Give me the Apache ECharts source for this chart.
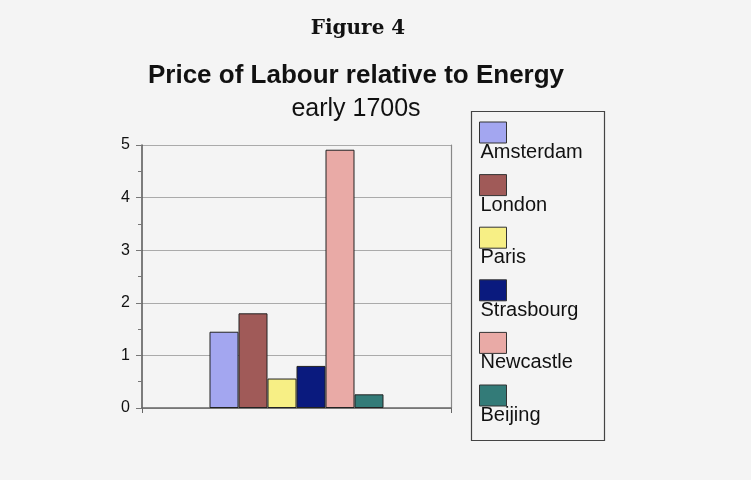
<!DOCTYPE html>
<html>
<head>
<meta charset="utf-8">
<script src="https://cdn.jsdelivr.net/npm/echarts@6/dist/echarts.min.js"></script>
<style>
    html, body { margin: 0; padding: 0; background: #f4f4f4; }
    #chart { width: 751px; height: 480px; }
</style>
</head>
<body>
<div id="chart"></div>
<script>
// data
var cities = ['Amsterdam', 'London', 'Paris', 'Strasbourg', 'Newcastle', 'Beijing'];
var values = [1.45, 1.80, 0.56, 0.80, 4.91, 0.26];
var colors = ['#a3a6f0', '#a05a58', '#f7ef85', '#0a1a7e', '#e9aaa6', '#337b78'];
var yTicks = [0, 1, 2, 3, 4, 5];

var chart = echarts.init(document.getElementById('chart'));

var series = [];
for (var i = 0; i < cities.length; i++) {
    series.push({
        name: cities[i],
        type: 'bar',
        data: [values[i]],
        barWidth: 29,
        barGap: '0%',
        itemStyle: {
            color: colors[i],
            borderColor: '#222',
            borderWidth: 1
        }
    });
}

var option = {
    backgroundColor: '#f4f4f4',
    animation: false,
    title: [
        {
            text: 'Figure 4',
            left: 353, top: 14, textAlign: 'center',
            textStyle: { fontFamily: 'DejaVu Serif', fontWeight: 'bold', fontSize: 20, color: '#111' }
        },
        {
            text: 'Price of Labour relative to Energy',
            left: 351, top: 58, textAlign: 'center',
            textStyle: { fontFamily: 'Liberation Sans', fontWeight: 'bold', fontSize: 26, color: '#111' }
        },
        {
            text: 'early 1700s',
            left: 351, top: 92, textAlign: 'center',
            textStyle: { fontFamily: 'Liberation Sans', fontWeight: 'normal', fontSize: 25, color: '#111' }
        }
    ],
    // legend frame
    graphic: [{
        type: 'rect',
        shape: { x: 471.5, y: 111.5, width: 133, height: 329 },
        style: { fill: 'none', stroke: '#444', lineWidth: 1.2 }
    }],
    legend: {
        orient: 'vertical',
        left: 479, top: 92.5,
        padding: 0,
        itemWidth: 27, itemHeight: 21,
        itemGap: -27.4,
        icon: 'rect',
        data: cities,
        // name goes on a second line, under the swatch
        formatter: function (name) { return '\n' + name; },
        itemStyle: { borderColor: '#333', borderWidth: 1 },
        textStyle: {
            fontFamily: 'Liberation Sans', fontSize: 20, color: '#111',
            lineHeight: 40,
            padding: [0, 0, 0, -31]
        }
    },
    grid: { left: 142, right: 300, top: 145, bottom: 72 },
    xAxis: {
        type: 'category',
        data: [''],
        axisLine: { lineStyle: { color: '#666', width: 1.5 } },
        axisTick: { show: true, length: 5, lineStyle: { color: '#666' } },
        axisLabel: { show: false }
    },
    yAxis: [{
        type: 'value',
        min: yTicks[0], max: yTicks[yTicks.length - 1], interval: 1,
        axisLine: { show: true, lineStyle: { color: '#555', width: 1.5 } },
        axisTick: { show: true, length: 6, lineStyle: { color: '#777' } },
        minorTick: { show: true, splitNumber: 2, length: 4, lineStyle: { color: '#777' } },
        axisLabel: { fontFamily: 'Liberation Sans', fontSize: 16, color: '#111', margin: 12 },
        splitLine: { lineStyle: { color: '#aaa', width: 1.2 } }
    }, {
        // right frame of the plot
        type: 'value',
        position: 'right',
        min: 0, max: 5,
        axisLine: { show: true, lineStyle: { color: '#888', width: 1.2 } },
        axisTick: { show: false },
        axisLabel: { show: false },
        splitLine: { show: false }
    }],
    series: series
};

chart.setOption(option);
</script>
</body>
</html>
